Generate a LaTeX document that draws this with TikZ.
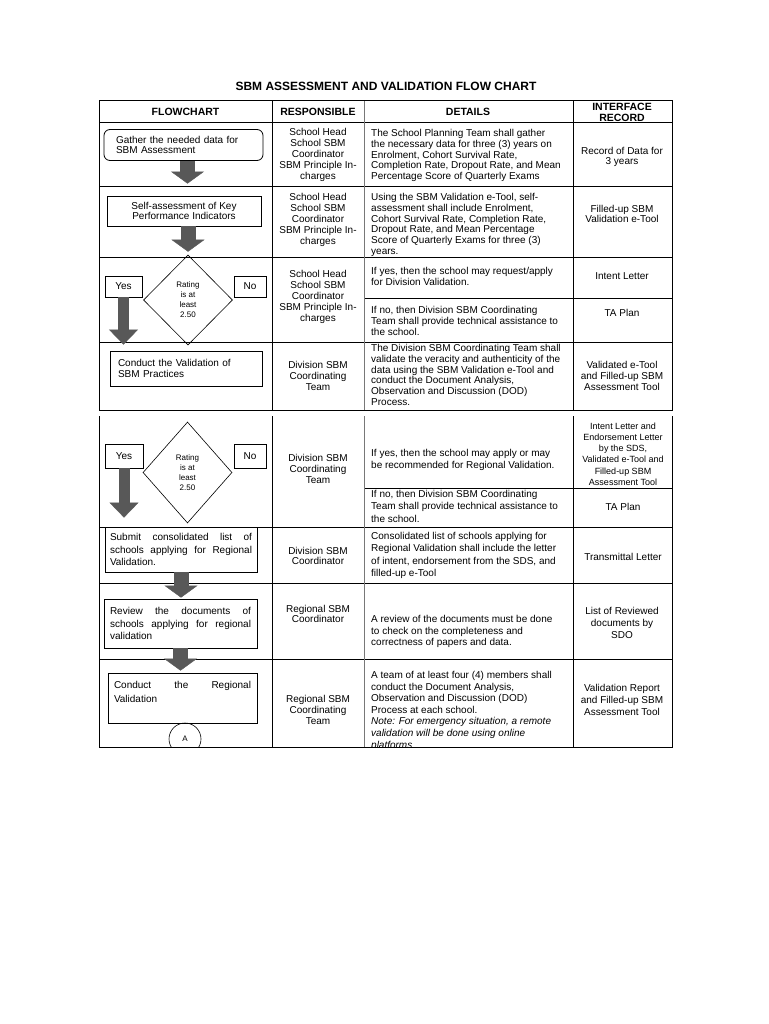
\documentclass[tikz,border=0pt]{standalone}
\usepackage{fontspec}
\setmainfont{Liberation Sans}
\usetikzlibrary{shapes,arrows.meta,positioning,calc}
\definecolor{arrgray}{RGB}{88,88,88}
\definecolor{linegray}{RGB}{120,120,120}

\begin{document}
\begin{tikzpicture}[x=1pt,y=-1pt,every node/.style={inner sep=0pt},
  txt/.style={font=\fontsize{10}{10.8}\selectfont},
  ltxt/.style={font=\fontsize{10}{12.3}\selectfont},
  mtxt/.style={font=\fontsize{10}{11.6}\selectfont},
  stxt/.style={font=\fontsize{9}{11.2}\selectfont},
  hdr/.style={font=\fontsize{10.5}{11}\selectfont\bfseries,align=center},
  lft/.style={align=left,anchor=north west},
  fbox/.style={draw,line width=0.8pt},
  dec/.style={draw,diamond,line width=0.6pt,minimum width=89pt,font=\fontsize{8}{10}\selectfont,align=center},
  yn/.style={draw,line width=0.8pt,font=\fontsize{10}{12}\selectfont},
  blk/.style={draw=arrgray,line width=15pt,-{Triangle[width=33pt,length=12pt,line width=0.4pt]}},
  yblk/.style={draw=arrgray,line width=11pt,-{Triangle[width=29pt,length=15pt,line width=0.4pt]}},
  grid/.style={line width=0.6pt},
  frame/.style={line width=1pt}]

\fill[white] (0,0) rectangle (768,1024);
\useasboundingbox (0,0) rectangle (768,1024);

\node[font=\fontsize{12}{14}\selectfont\bfseries] (title) at (386,86) {SBM ASSESSMENT AND VALIDATION FLOW CHART};

\draw[frame] (99,101) rectangle (672,410);
\draw[grid] (99,122) -- (672,122);
\draw[grid] (99,186) -- (672,186);
\draw[grid] (99,257) -- (672,257);
\draw[grid] (99,342) -- (672,342);
\draw[grid] (364,298) -- (672,298);
\draw[grid] (272,101) -- (272,410);
\draw[grid,linegray] (364,101) -- (364,410);
\draw[grid] (573,101) -- (573,410);

\draw[frame] (99,416) -- (99,747) -- (672,747) -- (672,416);
\draw[grid] (364,488) -- (672,488);
\draw[grid] (99,527) -- (672,527);
\draw[grid] (99,583) -- (672,583);
\draw[grid] (99,659) -- (672,659);
\draw[grid] (272,416) -- (272,747);
\draw[grid,linegray] (364,416) -- (364,747);
\draw[grid] (573,416) -- (573,747);

\node[hdr] (hflow) at (185.5,112) {FLOWCHART};
\node[hdr] (hresp) at (318,112) {RESPONSIBLE};
\node[hdr] (hdet) at (468,112) {DETAILS};
\node[hdr] (hrec) at (622,112) {INTERFACE\\RECORD};

\node[fbox,txt,rounded corners=6pt,align=left,text width=135pt,inner xsep=12pt,minimum height=31pt] (gather) at (183.5,145) {Gather the needed data for\\SBM Assessment};
\node[fbox,txt,align=center,minimum width=154pt,minimum height=30pt] (selfa) at (184,211) {Self-assessment of Key\\Performance Indicators};
\node[dec,minimum height=90pt] (dec1) at (188,300) {Rating\\is at\\least\\2.50};
\node[yn,minimum width=37pt,minimum height=21pt] (yes1) at (123.5,286.5) {Yes};
\node[yn,minimum width=32pt,minimum height=21pt] (no1) at (250,286.5) {No};
\node[fbox,txt,align=left,text width=136pt,inner xsep=8pt,minimum height=35pt] (cdv) at (186,368.5) {Conduct the Validation of\\SBM Practices};

\draw[blk,shorten >=12pt] ([xshift=4pt]gather.south) -- ([xshift=4pt]gather.south |- selfa.north);
\draw[blk,shorten >=3pt] ([xshift=4pt]selfa.south) -- ([xshift=4pt]selfa.south |- dec1.north);
\draw[yblk,shorten >=6pt] (yes1.south) -- (yes1.south |- cdv.north);

\node[txt,align=center] (resp1) at (318,155) {School Head\\School SBM\\Coordinator\\SBM Principle In-\\charges};
\node[txt,align=center] (resp2) at (318,220) {School Head\\School SBM\\Coordinator\\SBM Principle In-\\charges};
\node[txt,align=center] (resp3) at (318,297) {School Head\\School SBM\\Coordinator\\SBM Principle In-\\charges};
\node[txt,align=center] (resp4) at (318,376) {Division SBM\\Coordinating\\Team};

\node[txt,lft] (det1) at (371,129) {The School Planning Team shall gather\\the necessary data for three (3) years on\\Enrolment, Cohort Survival Rate,\\Completion Rate, Dropout Rate, and Mean\\Percentage Score of Quarterly Exams};
\node[txt,lft] (det2) at (371,193) {Using the SBM Validation e-Tool, self-\\assessment shall include Enrolment,\\Cohort Survival Rate, Completion Rate,\\Dropout Rate, and Mean Percentage\\Score of Quarterly Exams for three (3)\\years.};
\node[txt,lft] (det3a) at (371,267) {If yes, then the school may request/apply\\for Division Validation.};
\node[txt,lft] (det3b) at (371,306) {If no, then Division SBM Coordinating\\Team shall provide technical assistance to\\the school.};
\node[txt,lft] (det4) at (371,344) {The Division SBM Coordinating Team shall\\validate the veracity and authenticity of the\\data using the SBM Validation e-Tool and\\conduct the Document Analysis,\\Observation and Discussion (DOD)\\Process.};

\node[txt,align=center] (rec1) at (622,157) {Record of Data for\\3 years};
\node[txt,align=center] (rec2) at (622,214) {Filled-up SBM\\Validation e-Tool};
\node[txt,align=center] (rec3a) at (622,276) {Intent Letter};
\node[txt,align=center] (rec3b) at (622,313) {TA Plan};
\node[txt,align=center] (rec4) at (622,376) {Validated e-Tool\\and Filled-up SBM\\Assessment Tool};

\begin{scope}
\clip (99,416) rectangle (672,747);
\node[dec,minimum height=101pt] (dec2) at (187.5,472.5) {Rating\\is at\\least\\2.50};
\node[yn,minimum width=38pt,minimum height=24pt] (yes2) at (124,456) {Yes};
\node[yn,minimum width=32pt,minimum height=24pt] (no2) at (250,456) {No};
\node[fbox,ltxt,align=left,text width=142pt,inner xsep=5pt,minimum height=45pt] (submit) at (181,549.5) {\makebox[142pt][l]{Submit\hfill consolidated\hfill list\hfill of}\\\makebox[142pt][l]{schools\hfill applying\hfill for\hfill Regional}\\Validation.};
\node[fbox,ltxt,align=left,text width=141pt,inner xsep=6pt,minimum height=49pt] (review) at (180.5,623.5) {\makebox[141pt][l]{Review\hfill the\hfill documents\hfill of}\\\makebox[141pt][l]{schools\hfill applying\hfill for\hfill regional}\\validation};
\node[fbox,ltxt,align=left,text width=137pt,inner xsep=6pt,minimum height=50pt] (creg) at (182.5,698) {\makebox[137pt][l]{Conduct\hfill the\hfill Regional}\\[2pt]Validation\\\mbox{}};
\node[draw,circle,line width=0.6pt,minimum size=32pt,font=\fontsize{8}{10}\selectfont] (circA) at (185,739) {A};

\draw[blk,shorten >=18pt] (cdv.south) -- (cdv.south |- dec2.north);
\draw[yblk,shorten >=9pt] (yes2.south) -- (yes2.south |- submit.north);
\draw[blk,shorten >=1pt] (submit.south) -- (submit.south |- review.north);
\draw[blk,shorten >=2pt] (review.south) -- (review.south |- creg.north);

\node[txt,align=center] (resp5) at (318,469) {Division SBM\\Coordinating\\Team};
\node[txt,align=center] (resp6) at (318,556) {Division SBM\\Coordinator};
\node[txt,align=center] (resp7) at (318,614) {Regional SBM\\Coordinator};
\node[txt,align=center] (resp8) at (318,710) {Regional SBM\\Coordinating\\Team};

\node[ltxt,lft] (det5a) at (371,449) {If yes, then the school may apply or may\\be recommended for Regional Validation.};
\node[ltxt,lft] (det5b) at (371,490) {If no, then Division SBM Coordinating\\Team shall provide technical assistance to\\the school.};
\node[ltxt,lft] (det6) at (371,532) {Consolidated list of schools applying for\\Regional Validation shall include the letter\\of intent, endorsement from the SDS, and\\filled-up e-Tool};
\node[mtxt,lft] (det7) at (371,615) {A review of the documents must be done\\to check on the completeness and\\correctness of papers and data.};
\node[mtxt,lft] (det8) at (371,671) {A team of at least four (4) members shall\\conduct the Document Analysis,\\Observation and Discussion (DOD)\\Process at each school.\\\textit{Note: For emergency situation, a remote}\\\textit{validation will be done using online}\\\textit{platforms}};

\node[stxt,align=center] (rec5a) at (623,454) {Intent Letter and\\Endorsement Letter\\by the SDS,\\Validated e-Tool and\\Filled-up SBM\\Assessment Tool};
\node[txt,align=center] (rec5b) at (623,507) {TA Plan};
\node[txt,align=center] (rec6) at (623,557) {Transmittal Letter};
\node[mtxt,align=center] (rec7) at (622,623) {List of Reviewed\\documents by\\SDO};
\node[mtxt,align=center] (rec8) at (622,700) {Validation Report\\and Filled-up SBM\\Assessment Tool};
\end{scope}
\end{tikzpicture}
\end{document}
